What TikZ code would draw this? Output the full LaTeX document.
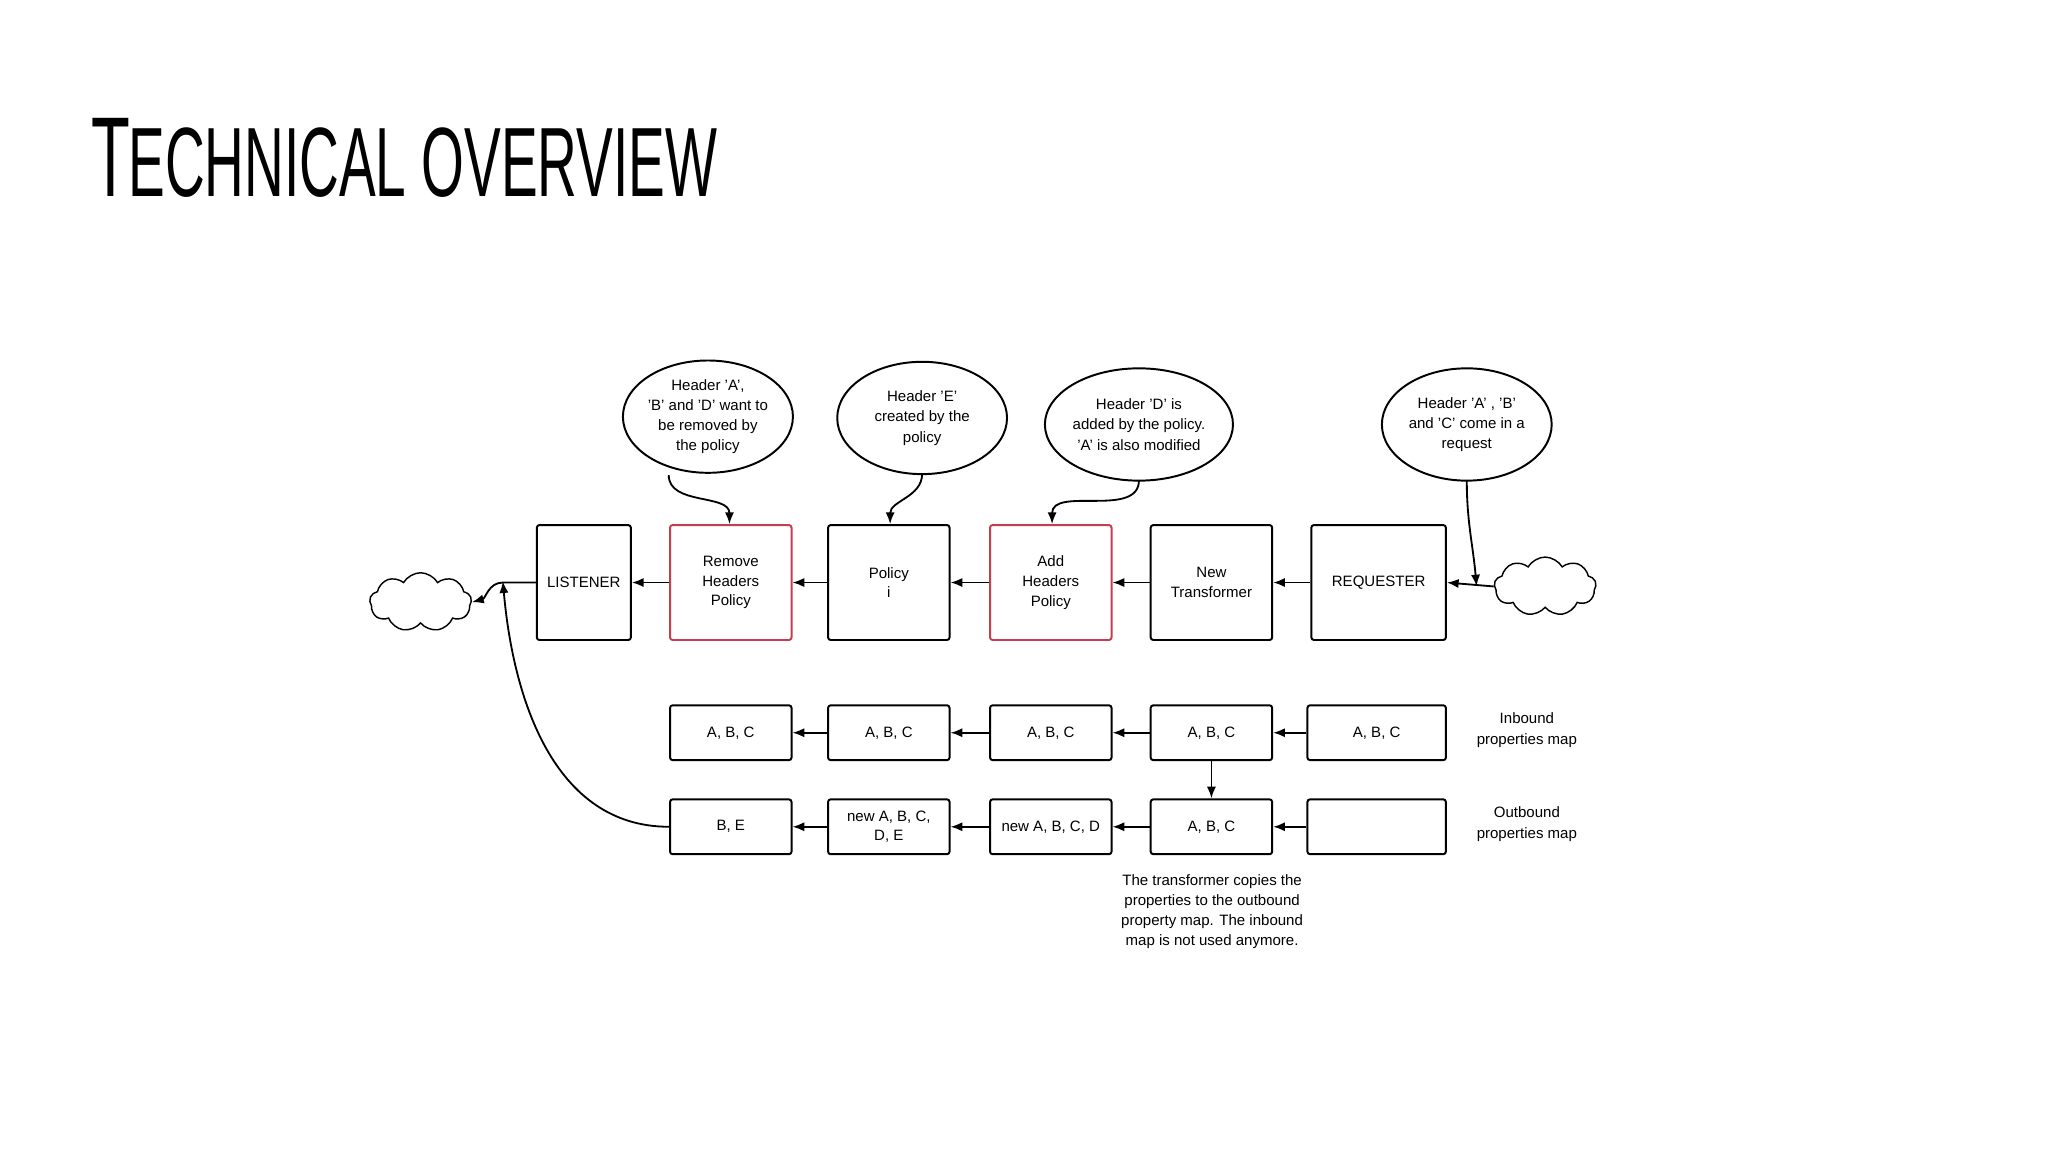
\documentclass[tikz,border=0pt]{standalone}
\usepackage{fontspec}
\setmainfont{Liberation Sans}
\usetikzlibrary{shapes.symbols,shapes.geometric,arrows.meta}
\definecolor{pred}{RGB}{200,60,80}
\tikzset{
 bx/.style={draw,line width=1.5pt,rounded corners=2pt,align=center,font=\fontsize{11.5}{15}\selectfont,inner sep=0pt},
 tb/.style={bx,minimum height=88pt},
 pb/.style={bx,minimum height=42pt},
 el/.style={draw,ellipse,line width=1.5pt,align=center,font=\fontsize{11.5}{15.5}\selectfont,inner sep=0pt},
 ar/.style={-{Latex[length=9pt,width=7pt]},line width=1.4pt},
 cl/.style={draw,cloud,cloud puffs=9,cloud puff arc=120,aspect=1.7,line width=1.1pt,minimum width=78pt,minimum height=45pt},
 lb/.style={align=center,font=\fontsize{11.5}{15.5}\selectfont}
}
\begin{document}
\begin{tikzpicture}[x=1pt,y=-1pt]
\useasboundingbox (0,0) rectangle (1568,882);
\node[anchor=west,inner sep=0pt] (title) at (70,121) {\scalebox{1.62}[2.9]{\fontsize{30}{30}\selectfont T\kern-1pt{\fontsize{26}{26}\selectfont ECHNICAL OVERVIEW}}};
% top row
\node[tb,minimum width=72pt] (lis) at (447,446) {LISTENER};
\node[tb,minimum width=93pt,draw=pred] (rem) at (559.5,446) {Remove\\Headers\\Policy};
\node[tb,minimum width=93pt] (pol) at (680.5,446) {Policy\\i};
\node[tb,minimum width=93pt,draw=pred] (add) at (804.5,446) {Add\\Headers\\Policy};
\node[tb,minimum width=93pt] (new) at (927.5,446) {New\\Transformer};
\node[tb,minimum width=103pt] (req) at (1055.5,446) {REQUESTER};
\node[cl] (lc) at (322,461) {};
\node[cl] (rc) at (1183,449) {};
% ellipses
\node[el,minimum width=130pt,minimum height=86pt] (e1) at (542,319) {Header 'A',\\'B' and 'D' want to\\be removed by\\the policy};
\node[el,minimum width=130pt,minimum height=86pt] (e2) at (706,320) {Header 'E'\\created by the\\policy};
\node[el,minimum width=144pt,minimum height=86pt] (e3) at (872,325) {Header 'D' is\\added by the policy.\\'A' is also modified};
\node[el,minimum width=130pt,minimum height=86pt] (e4) at (1123,325) {Header 'A' , 'B'\\and 'C' come in a\\request};
% inbound row
\node[pb,minimum width=93pt] (i1) at (559.5,561) {A, B, C};
\node[pb,minimum width=93pt] (i2) at (680.5,561) {A, B, C};
\node[pb,minimum width=93pt] (i3) at (804.5,561) {A, B, C};
\node[pb,minimum width=93pt] (i4) at (927.5,561) {A, B, C};
\node[pb,minimum width=106pt] (i5) at (1054,561) {A, B, C};
% outbound row
\node[pb,minimum width=93pt] (o1) at (559.5,633) {B, E};
\node[pb,minimum width=93pt] (o2) at (680.5,633) {new A, B, C,\\D, E};
\node[pb,minimum width=93pt] (o3) at (804.5,633) {new A, B, C, D};
\node[pb,minimum width=93pt] (o4) at (927.5,633) {A, B, C};
\node[pb,minimum width=106pt] (o5) at (1054,633) {};
\node[lb] (inl) at (1169,559) {Inbound\\properties map};
\node[lb] (outl) at (1169,631) {Outbound\\properties map};
\node[lb] (note) at (928,698) {The transformer copies the\\properties to the outbound\\property map. The inbound\\map is not used anymore.};
% connectors
\coordinate (j) at (385,446);
\draw[ar] (rc.west) -- (req.east);
\draw[ar] (req.west) -- (new.east);
\draw[ar] (new.west) -- (add.east);
\draw[ar] (add.west) -- (pol.east);
\draw[ar] (pol.west) -- (rem.east);
\draw[ar] (rem.west) -- (lis.east);
\draw[ar] (lis.west) -- (j) to[out=180,in=15] (lc.east);
\draw[ar] (i5.west) -- (i4.east);
\draw[ar] (i4.west) -- (i3.east);
\draw[ar] (i3.west) -- (i2.east);
\draw[ar] (i2.west) -- (i1.east);
\draw[ar] (o5.west) -- (o4.east);
\draw[ar] (o4.west) -- (o3.east);
\draw[ar] (o3.west) -- (o2.east);
\draw[ar] (o2.west) -- (o1.east);
\draw[ar] (i4.south) -- (o4.north);
\draw[ar] (o1.west) to[out=180,in=-85] ([yshift=1pt]j);
\draw[ar] ([xshift=-30pt,yshift=-1pt]e1.south) to[out=-90,in=90] ([xshift=-1pt]rem.north);
\draw[ar] ([yshift=1pt]e2.south) to[out=-90,in=90] ([xshift=1pt]pol.north);
\draw[ar] ([yshift=1pt]e3.south) to[out=-90,in=90] ([xshift=1pt]add.north);
\draw[ar] ([yshift=1pt]e4.south) to[out=-90,in=95] ([xshift=75pt]req.north |- rc.west);
\end{tikzpicture}
\end{document}
